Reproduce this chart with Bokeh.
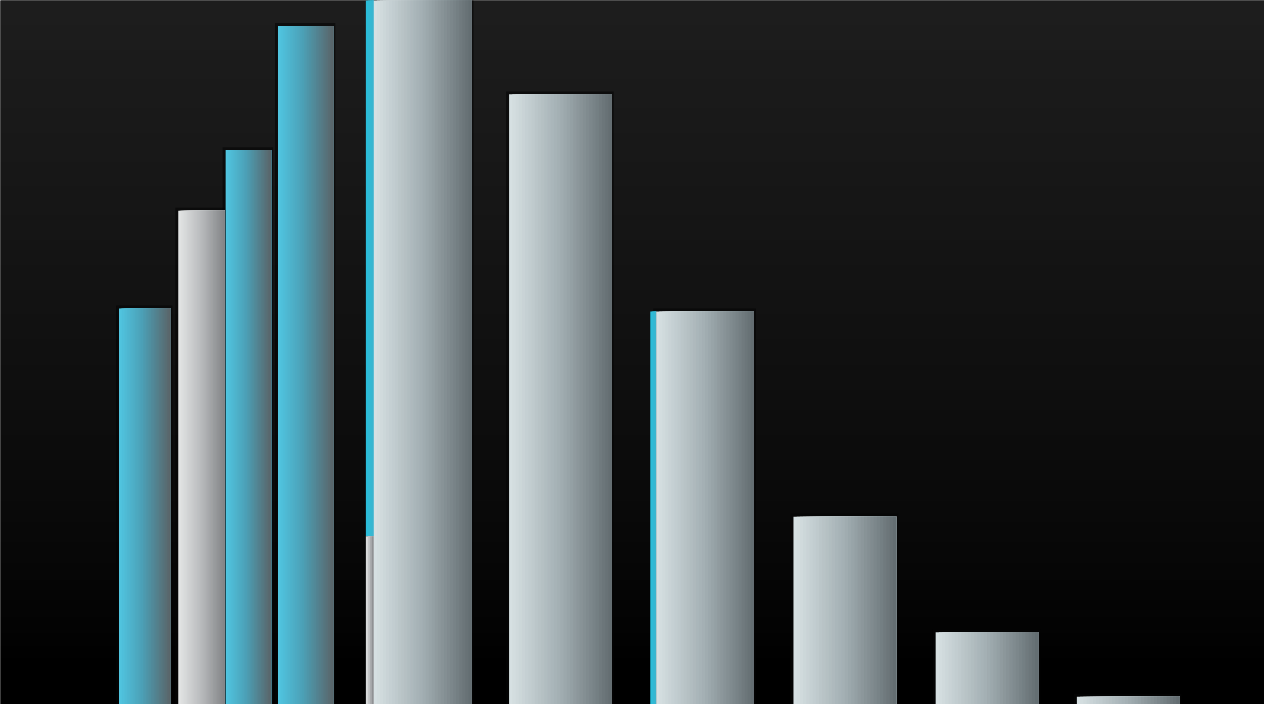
import numpy as np
from bokeh.plotting import figure
from bokeh.models import ColumnDataSource, Range1d
from bokeh.embed import file_html
from bokeh.resources import INLINE

# ---- data ----
bar_names = ["A", "B", "C", "D", "E", "F", "G", "H", "I", "J"]
bar_left = [120, 180, 228, 281, 378, 515, 664, 803, 947, 1090]
bar_right = [172, 227, 274, 337, 477, 619, 763, 907, 1051, 1194]
bar_values = [405, 505, 567, 694, 760, 624, 402, 192, 74, 8]
bar_kind = ["blue", "white", "blue", "blue", "grey", "grey", "grey", "grey", "grey", "grey"]

accent_left = [370, 658]
accent_right = [378, 664]
accent_bottom = [172, 0]
accent_top = [760, 402]

under_left = [370]
under_right = [378]
under_values = [172]

palettes = {
    "blue": [(0.0, (80, 198, 226)), (0.45, (76, 160, 182)), (1.0, (90, 100, 104))],
    "white": [(0.0, (228, 230, 230)), (0.5, (184, 186, 188)), (1.0, (130, 132, 134))],
    "grey": [(0.0, (216, 226, 228)), (0.5, (162, 174, 178)), (1.0, (98, 108, 112))],
    "cyan": [(0.0, (40, 190, 220)), (1.0, (60, 180, 205))],
}


def lerp_color(stops, t):
    for (t0, c0), (t1, c1) in zip(stops[:-1], stops[1:]):
        if t <= t1:
            f = (t - t0) / (t1 - t0) if t1 > t0 else 0
            return "#%02x%02x%02x" % tuple(int(round(a + (b - a) * f)) for a, b in zip(c0, c1))
    c = stops[-1][1]
    return "#%02x%02x%02x" % c


def strips(lefts, rights, bottoms, tops, kinds, n=32):
    # each strip runs from its own start to the bar's right edge, so later
    # strips overlay earlier ones and no seams appear
    L, R, B, T, C = [], [], [], [], []
    for l, r, b, t, k in zip(lefts, rights, bottoms, tops, kinds):
        edges = np.linspace(l, r, n + 1)
        for i in range(n):
            L.append(edges[i])
            R.append(r)
            B.append(b)
            T.append(t)
            C.append(lerp_color(palettes[k], (i + 0.5) / n))
    return ColumnDataSource(dict(left=L, right=R, bottom=B, top=T, color=C))


W, H = 1264, 704
p = figure(width=W, height=H, output_backend="svg", toolbar_location=None,
           x_range=Range1d(0, 1280), y_range=Range1d(0, 720), min_border=0)
p.axis.visible = False
p.grid.visible = False
p.outline_line_color = None
p.background_fill_color = "#000000"
p.border_fill_color = "#000000"

# background vertical gradient
rows = 180
g = np.zeros((rows, 1), dtype=np.uint32)
view = g.view(dtype=np.uint8).reshape((rows, 1, 4))
for i in range(rows):
    f = i / (rows - 1)  # 0 bottom -> 1 top
    v = int(round(30 * min(1.0, max(0.0, (f - 0.08) / 0.92)) ** 0.8))
    view[i, 0, :] = [v, v, v, 255]
p.image_rgba(image=[g], x=-20, y=-20, dw=1320, dh=760)

# shadow behind bars
p.quad(left=[l - 3 for l in bar_left], right=[r + 2 for r in bar_right],
       bottom=0, top=[v + 3 for v in bar_values], fill_color="#050505",
       fill_alpha=0.6, line_color=None)

# accent strips (cyan) behind
p.quad(source=strips(accent_left, accent_right, accent_bottom, accent_top,
                     ["cyan"] * len(accent_left), n=4),
       left="left", right="right", bottom="bottom", top="top",
       fill_color="color", line_color=None)
p.quad(source=strips(under_left, under_right, [0] * len(under_left), under_values,
                     ["white"] * len(under_left), n=4),
       left="left", right="right", bottom="bottom", top="top",
       fill_color="color", line_color=None)

# main bars
p.quad(source=strips(bar_left, bar_right, [0] * len(bar_left), bar_values, bar_kind),
       left="left", right="right", bottom="bottom", top="top",
       fill_color="color", line_color=None)

open("out.html", "w").write(file_html(p, INLINE))
